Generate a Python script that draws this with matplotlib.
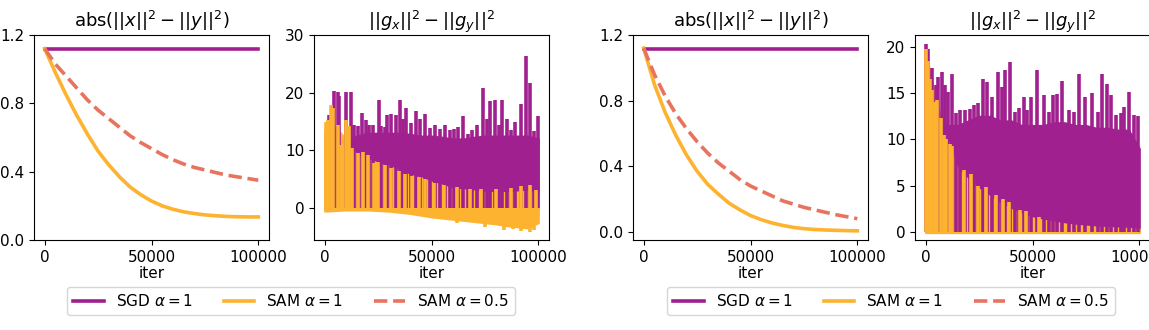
import matplotlib
matplotlib.use('Agg')
import matplotlib.pyplot as plt
import numpy as np

# colours
c_sgd = '#a1208f'
c_sam = '#fdb330'
c_sam05 = '#e8735f'

# ---- smooth curves, read every 5000 iterations ----
iters = np.arange(0, 100001, 5000)

left_sgd = [1.117] * 21
left_sam = [1.12, 0.98, 0.85, 0.73, 0.62, 0.52, 0.44, 0.37, 0.31, 0.265, 0.228,
            0.20, 0.18, 0.165, 0.155, 0.147, 0.142, 0.138, 0.136, 0.135, 0.135]
left_sam05 = [1.12, 1.03, 0.96, 0.89, 0.82, 0.76, 0.71, 0.66, 0.61, 0.57, 0.535,
              0.50, 0.47, 0.445, 0.425, 0.41, 0.395, 0.38, 0.37, 0.36, 0.35]

right_sgd = [1.117] * 21
right_sam = [1.12, 0.90, 0.73, 0.59, 0.47, 0.37, 0.29, 0.23, 0.175, 0.135, 0.10,
             0.075, 0.055, 0.04, 0.028, 0.02, 0.015, 0.012, 0.01, 0.008, 0.007]
right_sam05 = [1.12, 0.96, 0.83, 0.72, 0.63, 0.55, 0.48, 0.42, 0.37, 0.32, 0.28,
               0.25, 0.22, 0.19, 0.17, 0.15, 0.135, 0.12, 0.105, 0.093, 0.081]

# ---- noisy gradient gap: band (dense part) + spikes ----
# left pair
g1_sgd_hi = [12.5, 11.5, 11.5, 12.5, 13.0, 13.0, 13.0, 13.0, 12.8, 12.5, 12.5,
             12.3, 12.0, 12.0, 12.3, 12.5, 12.5, 12.5, 12.5, 12.5, 12.0]
g1_sgd_lo = [0.0] * 21
g1_sam_hi = [13.5, 14.0, 12.0, 9.2, 8.5, 7.8, 7.3, 6.5, 5.7, 5.3, 4.5,
             4.0, 3.3, 3.2, 3.0, 2.8, 2.7, 2.7, 2.8, 3.0, 2.5]
g1_sam_lo = [-0.5, -0.4, -0.3, -0.3, -0.3, -0.4, -0.5, -0.7, -0.9, -1.2, -1.5,
             -1.7, -1.9, -2.1, -2.3, -2.5, -2.7, -3.0, -3.2, -3.4, -2.5]

g1_sgd_spk_x = [2000, 3000, 4400, 6000, 6800, 10200, 12300, 13800, 15400, 17300,
                19300, 20600, 22800, 25200, 26500, 28000, 29100, 31100, 33500, 35100,
                36600, 38200, 40600, 42600, 44500, 46900, 49200, 51600, 54000, 56300,
                58600, 60500, 62600, 64900, 67300, 69000, 71200, 73900, 75900, 77500,
                79600, 81400, 83000, 85400, 87400, 89300, 91700, 94000, 96100, 98000,
                100000]
g1_sgd_spk_y = [16.2, 16.0, 20.3, 20.2, 19.5, 20.2, 20.2, 14.5, 14.2, 16.5,
                15.2, 14.5, 14.5, 18.7, 14.2, 14.0, 16.2, 16.3, 16.2, 18.7,
                15.5, 17.3, 14.8, 16.8, 15.5, 16.4, 13.9, 14.5, 13.8, 14.5,
                13.6, 13.8, 14.0, 15.9, 12.8, 13.5, 14.5, 20.8, 15.5, 18.5,
                18.7, 14.5, 18.7, 15.5, 13.6, 15.0, 18.0, 26.3, 21.7, 13.4,
                15.9]
g1_sam_spk_x = [500, 1500, 2800, 4000, 6000, 7500, 10000, 11500, 13000, 15500,
                18000, 20500, 23000, 25000, 28000, 31000, 35000, 37500, 41000,
                44000, 47000, 51000, 56000, 62000, 68000, 73000, 80000, 87000,
                92000, 96000, 99000]
g1_sam_spk_y = [15.0, 15.3, 17.9, 17.3, 14.5, 11.0, 15.3, 14.2, 10.5, 9.5,
                9.7, 9.3, 7.8, 8.0, 7.5, 7.0, 6.5, 6.0, 5.5,
                5.4, 5.0, 4.4, 4.0, 3.6, 3.4, 3.3, 3.3, 3.5,
                3.8, 4.0, 3.2]
g1_sam_dip_x = [62000, 75000, 84000, 88000, 92000, 96000, 98000]
g1_sam_dip_y = [-2.6, -3.2, -3.8, -3.6, -4.0, -4.2, -3.7]

# right pair
g2_sgd_hi = [13.0, 13.0, 11.5, 11.5, 12.0, 12.5, 12.5, 12.0, 12.0, 11.5, 11.5,
             11.5, 11.8, 11.8, 11.5, 11.5, 11.2, 11.2, 11.0, 11.0, 9.0]
g2_sgd_lo = [0.0] * 21
g2_sam_hi = [19.5, 14.0, 10.0, 6.7, 5.6, 4.6, 3.8, 3.0, 2.4, 1.9, 1.5,
             1.25, 1.05, 0.85, 0.7, 0.6, 0.5, 0.45, 0.4, 0.35, 0.3]
g2_sam_lo = [-0.1] * 21

g2_sgd_spk_x = [300, 1200, 2000, 3100, 4800, 5900, 7500, 9000, 10600, 12500,
                14000, 16000, 18400, 20800, 22700, 24400, 27000, 28900, 30900, 34000,
                35600, 37200, 39500, 41900, 43800, 45800, 47500, 49200, 52000, 55600,
                57500, 59800, 61400, 64000, 66900, 69500, 71900, 74700, 77800, 80500,
                82700, 84800, 86900, 89000, 91500, 93000, 95000, 97300, 99200]
g2_sgd_spk_y = [20.3, 19.8, 16.0, 17.7, 15.9, 16.8, 17.3, 15.9, 15.1, 17.1,
                12.8, 13.2, 13.2, 13.3, 13.7, 13.9, 16.5, 16.2, 14.6, 17.3,
                15.7, 17.5, 18.4, 13.0, 13.4, 14.6, 13.2, 14.6, 17.5, 14.8,
                13.0, 14.8, 14.9, 16.3, 13.2, 13.0, 17.1, 14.6, 15.0, 13.0,
                17.1, 16.0, 14.8, 12.6, 12.8, 13.5, 15.1, 12.6, 12.5]
g2_sam_spk_x = [300, 1000, 2000, 3000, 4200, 5500, 7000, 8500, 9500, 11200,
                12500, 18000, 21000, 24500, 28000, 33000, 36000, 39000, 44000,
                47000, 53000]
g2_sam_spk_y = [19.8, 18.5, 16.5, 15.3, 14.0, 14.3, 12.3, 10.5, 10.0, 9.5,
                9.3, 6.7, 6.2, 5.0, 4.8, 4.0, 3.5, 3.2, 2.3,
                2.2, 1.6]

H = 330
W = 1149
fig = plt.figure(figsize=(11.49, 3.30), dpi=100)
bottom = (H - 240) / H
height = 205 / H
lefts = [34, 314, 633, 915]
width = 235 / W
axs = [fig.add_axes([l / W, bottom, width, height]) for l in lefts]

lw = 2.6
fs = 11


def smooth_panel(ax, sgd, sam, sam05, ylim):
    l1, = ax.plot(iters, sgd, color=c_sgd, lw=lw, label=r'SGD $\alpha=1$')
    l2, = ax.plot(iters, sam, color=c_sam, lw=lw, label=r'SAM $\alpha=1$')
    l3, = ax.plot(iters, sam05, color=c_sam05, lw=lw, ls='--', label=r'SAM $\alpha=0.5$')
    ax.set_ylim(*ylim)
    ax.set_yticks([0.0, 0.4, 0.8, 1.2])
    ax.set_title(r'abs($||x||^2 - ||y||^2$)', fontsize=13)
    return [l1, l2, l3]


def noisy_panel(ax, sgd_hi, sgd_lo, sgd_sx, sgd_sy, sam_hi, sam_lo, sam_sx, sam_sy):
    ax.fill_between(iters, sgd_lo, sgd_hi, color=c_sgd, lw=1.5, edgecolor=c_sgd)
    ax.vlines(sgd_sx, 0, sgd_sy, color=c_sgd, lw=2.6)
    ax.fill_between(iters, sam_lo, sam_hi, color=c_sam, lw=1.5, edgecolor=c_sam)
    ax.vlines(sam_sx, 0, sam_sy, color=c_sam, lw=2.6)
    ax.set_title(r'$||g_x||^2 - ||g_y||^2$', fontsize=13)


handles = smooth_panel(axs[0], left_sgd, left_sam, left_sam05, (0, 1.2))
smooth_panel(axs[2], right_sgd, right_sam, right_sam05, (-0.049, 1.2))

noisy_panel(axs[1], g1_sgd_hi, g1_sgd_lo, g1_sgd_spk_x, g1_sgd_spk_y,
            g1_sam_hi, g1_sam_lo, g1_sam_spk_x, g1_sam_spk_y)
axs[1].vlines(g1_sam_dip_x, g1_sam_dip_y, 0, color=c_sam, lw=2.6)
axs[1].set_ylim(-5.5, 30)
axs[1].set_yticks([0, 10, 20, 30])

noisy_panel(axs[3], g2_sgd_hi, g2_sgd_lo, g2_sgd_spk_x, g2_sgd_spk_y,
            g2_sam_hi, g2_sam_lo, g2_sam_spk_x, g2_sam_spk_y)
axs[3].set_ylim(-0.9, 21.3)
axs[3].set_yticks([0, 5, 10, 15, 20])

for ax in axs:
    ax.set_xlim(-5000, 105000)
    ax.set_xticks([0, 50000, 100000])
    ax.set_xlabel('iter', fontsize=fs, labelpad=1)
    ax.tick_params(labelsize=fs)

for cx in [291 / W, 891 / W]:
    fig.legend(handles=handles, loc='center', bbox_to_anchor=(cx, 29 / H),
               ncol=3, fontsize=fs, frameon=True, columnspacing=2.0)

fig.savefig('out.png', dpi=100)
